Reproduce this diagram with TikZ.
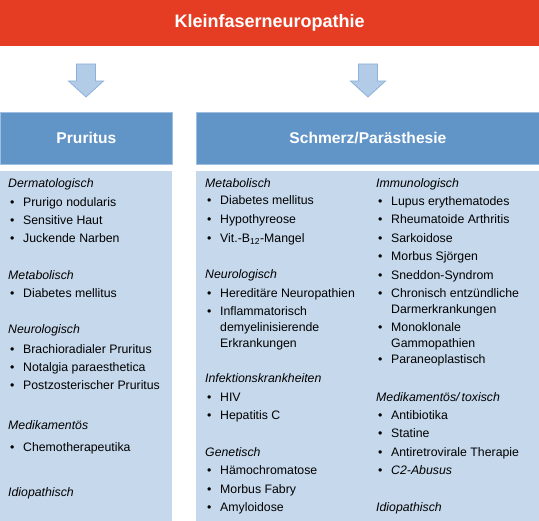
\documentclass[tikz,border=0pt]{standalone}
\usepackage{fontspec}
\setmainfont{Liberation Sans}
\definecolor{titelrot}{HTML}{E53D23}
\definecolor{kopfblau}{HTML}{6194C7}
\definecolor{kopfrand}{HTML}{9FBFE2}
\definecolor{feldblau}{HTML}{C6D8EC}
\definecolor{pfeilblau}{HTML}{B2CBE7}
\definecolor{pfeilrand}{HTML}{8DB1DB}
\newcommand{\pkt}{\makebox[13pt][l]{\textbullet}}
\tikzset{
    kat/.style={anchor=base west, inner sep=0pt, font=\fontsize{12.3}{14}\selectfont\itshape},
    eintrag/.style={anchor=base west, inner sep=0pt, font=\fontsize{12.3}{14}\selectfont},
    kopf/.style={fill=kopfblau, draw=kopfrand, line width=0.8pt, text=white, font=\fontsize{15.6}{18}\selectfont\bfseries, minimum height=52pt, anchor=north west, inner sep=0pt},
    feld/.style={fill=feldblau, anchor=north west, inner sep=0pt, minimum height=350pt},
    pfeil/.style={fill=pfeilblau, draw=pfeilrand, line width=0.8pt, line join=miter}
}
\begin{document}
\begin{tikzpicture}[x=1pt,y=-1pt]
        \useasboundingbox (0,0) rectangle (539,521);
        % Titel
        \node[fill=titelrot, text=white, font=\fontsize{18}{21}\selectfont\bfseries, minimum width=539pt, minimum height=46pt, anchor=north west, inner sep=0pt] (titel) at (0,0) {Kleinfaserneuropathie};

        % Pfeile
        \draw[pfeil] (86-9.5,64) -- (86+9.5,64) -- (86+9.5,81) -- (86+17.5,81) -- (86,97) -- (86-17.5,81) -- (86-9.5,81) -- cycle;
        \draw[pfeil] (368-9.5,64) -- (368+9.5,64) -- (368+9.5,81) -- (368+17.5,81) -- (368,97) -- (368-17.5,81) -- (368-9.5,81) -- cycle;

        % Kopfzeilen
        \node[kopf, minimum width=172pt] (kopfL) at (0,112) {Pruritus};
        \node[kopf, minimum width=343pt] (kopfR) at (196,112) {Schmerz/Parästhesie};

        % Felder
        \node[feld, minimum width=172pt] (feldL) at (0,171) {};
        \node[feld, minimum width=343pt] (feldR) at (196,171) {};

        % Pruritus
        \node[kat] (l1) at (8,187.5) {Dermatologisch};
        \node[eintrag] (l2) at (10,206.5) {\pkt Prurigo nodularis};
        \node[eintrag] (l3) at (10,224.5) {\pkt Sensitive Haut};
        \node[eintrag] (l4) at (10,242.5) {\pkt Juckende Narben};
        \node[kat] (l5) at (8,279.5) {Metabolisch};
        \node[eintrag] (l6) at (10,297.5) {\pkt Diabetes mellitus};
        \node[kat] (l7) at (8,333.5) {Neurologisch};
        \node[eintrag] (l8) at (10,353.5) {\pkt Brachioradialer Pruritus};
        \node[eintrag] (l9) at (10,371.5) {\pkt Notalgia paraesthetica};
        \node[eintrag] (l10) at (10,389.5) {\pkt Postzosterischer Pruritus};
        \node[kat] (l11) at (8,429.5) {Medikamentös};
        \node[eintrag] (l12) at (10,451.5) {\pkt Chemotherapeutika};
        \node[kat] (l13) at (8,496.5) {Idiopathisch};

        % Schmerz, linke Spalte
        \node[kat] (m1) at (205,187.5) {Metabolisch};
        \node[eintrag] (m2) at (207,204.5) {\pkt Diabetes mellitus};
        \node[eintrag] (m3) at (207,223.5) {\pkt Hypothyreose};
        \node[eintrag] (m4) at (207,242.5) {\pkt Vit.-B\textsubscript{12}-Mangel};
        \node[kat] (m5) at (205,278.5) {Neurologisch};
        \node[eintrag] (m6) at (207,297.5) {\pkt Hereditäre Neuropathien};
        \node[eintrag] (m7) at (207,315.5) {\pkt Inflammatorisch};
        \node[eintrag] (m7b) at (220,331.5) {demyelinisierende};
        \node[eintrag] (m7c) at (220,347.5) {Erkrankungen};
        \node[kat] (m8) at (205,382.5) {Infektionskrankheiten};
        \node[eintrag] (m9) at (207,401.5) {\pkt HIV};
        \node[eintrag] (m10) at (207,419.5) {\pkt Hepatitis C};
        \node[kat] (m11) at (205,456.5) {Genetisch};
        \node[eintrag] (m12) at (207,474.5) {\pkt Hämochromatose};
        \node[eintrag] (m13) at (207,493.5) {\pkt Morbus Fabry};
        \node[eintrag] (m14) at (207,511.5) {\pkt Amyloidose};

        % Schmerz, rechte Spalte
        \node[kat] (r1) at (376,187.5) {Immunologisch};
        \node[eintrag] (r2) at (378,205.5) {\pkt Lupus erythematodes};
        \node[eintrag] (r3) at (378,223.5) {\pkt Rheumatoide Arthritis};
        \node[eintrag] (r4) at (378,242.5) {\pkt Sarkoidose};
        \node[eintrag] (r5) at (378,260.5) {\pkt Morbus Sjörgen};
        \node[eintrag] (r6) at (378,279.5) {\pkt Sneddon-Syndrom};
        \node[eintrag] (r7) at (378,297.5) {\pkt Chronisch entzündliche};
        \node[eintrag] (r7b) at (391,313.5) {Darmerkrankungen};
        \node[eintrag] (r8) at (378,331.5) {\pkt Monoklonale};
        \node[eintrag] (r8b) at (391,347.5) {Gammopathien};
        \node[eintrag] (r9) at (378,363.5) {\pkt Paraneoplastisch};
        \node[kat] (r10) at (376,401.5) {Medikamentös/\,toxisch};
        \node[eintrag] (r11) at (378,419.5) {\pkt Antibiotika};
        \node[eintrag] (r12) at (378,437.5) {\pkt Statine};
        \node[eintrag] (r13) at (378,456.5) {\pkt Antiretrovirale Therapie};
        \node[eintrag] (r14) at (378,474.5) {\pkt \textit{C2-Abusus}};
        \node[kat] (r15) at (376,511.5) {Idiopathisch};
\end{tikzpicture}
\end{document}
